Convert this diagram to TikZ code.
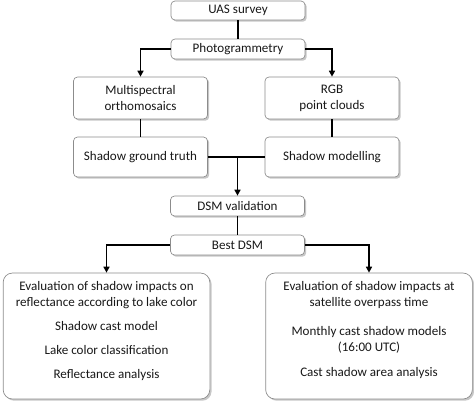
\documentclass[tikz,border=0pt]{standalone}
\usepackage{fontspec}
\setmainfont{Carlito}
\usepackage{tikz}
\usetikzlibrary{positioning, shapes.geometric, arrows, arrows.meta, shadows}

\begin{document}
\begin{tikzpicture}[x=0.75pt, y=-0.75pt,
        >={Triangle[length=4.5pt, width=4.5pt]},
        line/.style={line width=1.2pt, black},
        stage/.style={draw=black!45, line width=0.5pt, fill=white, rounded corners=3pt,
            drop shadow={shadow xshift=1.3pt, shadow yshift=-1.3pt, fill=black!22, opacity=1},
            align=center, minimum width=100.5pt, inner sep=0pt,
            font=\fontsize{9.8}{12}\selectfont, text=black!90},
        bigbox/.style={stage, rounded corners=7pt, minimum width=155pt, minimum height=94.5pt},
        bigtext/.style={align=center, inner sep=0pt, font=\fontsize{9.8}{12}\selectfont, text=black!90}]
    \useasboundingbox (0,0) rectangle (474,401);

    \node [stage, minimum height=14.25pt] (uas) at (238, 10.5) {UAS survey};
    \node [stage, minimum height=15pt] (photo) at (238, 49) {Photogrammetry};

    \node [stage, minimum height=31.5pt] (multi) at (140.5, 98) {Multispectral\\orthomosaics};
    \node [stage, minimum height=31.5pt] (rgb) at (332, 98) {RGB\\point clouds};

    \node [stage, minimum height=30pt] (sgt) at (140.5, 157) {Shadow ground truth};
    \node [stage, minimum height=30pt] (smod) at (332, 157) {Shadow modelling};

    \node [stage, minimum height=15pt] (dsmval) at (237.5, 206) {DSM validation};
    \node [stage, minimum height=15pt] (best) at (237.5, 245) {Best DSM};

    \node [bigbox] (evall) at (106.5, 336) {};
    \node [bigtext, below=6pt of evall.north] (evalltxt) {Evaluation of shadow impacts on\\reflectance according to lake color\\[6.5pt]
        Shadow cast model\\[6pt]Lake color classification\\[6pt]Reflectance analysis};
    \node [bigbox] (evalr) at (369, 336) {};
    \node [bigtext, below=6pt of evalr.north] (evalrtxt) {Evaluation of shadow impacts at\\satellite overpass time\\[10pt]
        Monthly cast shadow models\\(16:00 UTC)\\[7pt]Cast shadow area analysis};

    \coordinate (join) at (sgt.east -| dsmval.north);

    \draw [line] (uas) -- (photo);
    \draw [line, ->] (photo.west) -| (multi.north);
    \draw [line, ->] (photo.east) -| (rgb.north);
    \draw [line] (multi) -- (sgt);
    \draw [line] (rgb) -- (smod);
    \draw [line] (sgt.east) -- (smod.west);
    \draw [line, ->] (join) -- (dsmval.north);
    \draw [line] (dsmval) -- (best);
    \draw [line, ->] (best.west) -| (evall.north);
    \draw [line, ->] (best.east) -| (evalr.north);
\end{tikzpicture}
\end{document}
